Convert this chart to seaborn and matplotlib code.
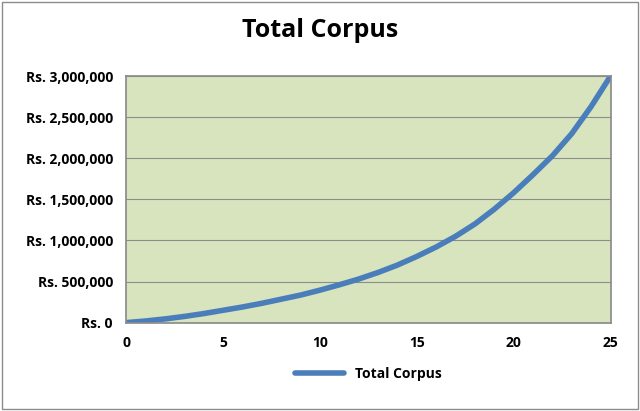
import matplotlib
matplotlib.use("Agg")
import matplotlib.pyplot as plt
import matplotlib.ticker as mticker
import seaborn as sns
import pandas as pd

# values
years = list(range(26))
corpus = [0, 20000, 45000, 75000, 110000, 150000, 190000, 235000, 285000, 335000,
          395000, 460000, 530000, 610000, 700000, 805000, 920000, 1050000, 1200000,
          1380000, 1580000, 1800000, 2030000, 2300000, 2630000, 3000000]
x_ticks = [0, 5, 10, 15, 20, 25]
y_ticks = [0, 500000, 1000000, 1500000, 2000000, 2500000, 3000000]

df = pd.DataFrame({"Year": years, "Total Corpus": corpus})

sns.set_theme(style="white")
plt.rcParams['font.family'] = ['Open Sans', 'DejaVu Sans']
plt.rcParams['text.color'] = 'black'
plt.rcParams['xtick.color'] = 'black'
plt.rcParams['ytick.color'] = 'black'

fig = plt.figure(figsize=(6.4, 4.11), dpi=100)
ax = fig.add_axes([0.197, 0.215, 0.757, 0.6])
ax.set_facecolor("#d7e4bd")

sns.lineplot(data=df, x="Year", y="Total Corpus", ax=ax, color="#4a7ebb",
             linewidth=4, label="Total Corpus")

ax.set_xlim(0, 25)
ax.set_ylim(0, 3000000)
ax.set_xticks(x_ticks)
ax.set_yticks(y_ticks)
ax.yaxis.set_major_formatter(mticker.FuncFormatter(lambda v, p: f"Rs. {int(v):,}"))
ax.grid(axis="y", color="#8c8c8c", linewidth=0.8)
ax.set_axisbelow(True)
for s in ax.spines.values():
    s.set_color("#8c8c8c")
ax.tick_params(labelsize=10, colors="black")
for lab in ax.get_xticklabels() + ax.get_yticklabels():
    lab.set_fontweight("bold")
ax.set_xlabel("")
ax.set_ylabel("")

fig.suptitle("Total Corpus", fontsize=18, fontweight="bold", y=0.955, color="black")
ax.legend(loc="upper center", bbox_to_anchor=(0.5, -0.13), frameon=False,
          prop={"size": 10, "weight": "bold"}, handlelength=3.5)

fig.patches.append(plt.Rectangle((0.003, 0.004), 0.994, 0.992, transform=fig.transFigure,
                                 fill=False, edgecolor="#8c8c8c", linewidth=1))
fig.savefig("out.png", dpi=100)
